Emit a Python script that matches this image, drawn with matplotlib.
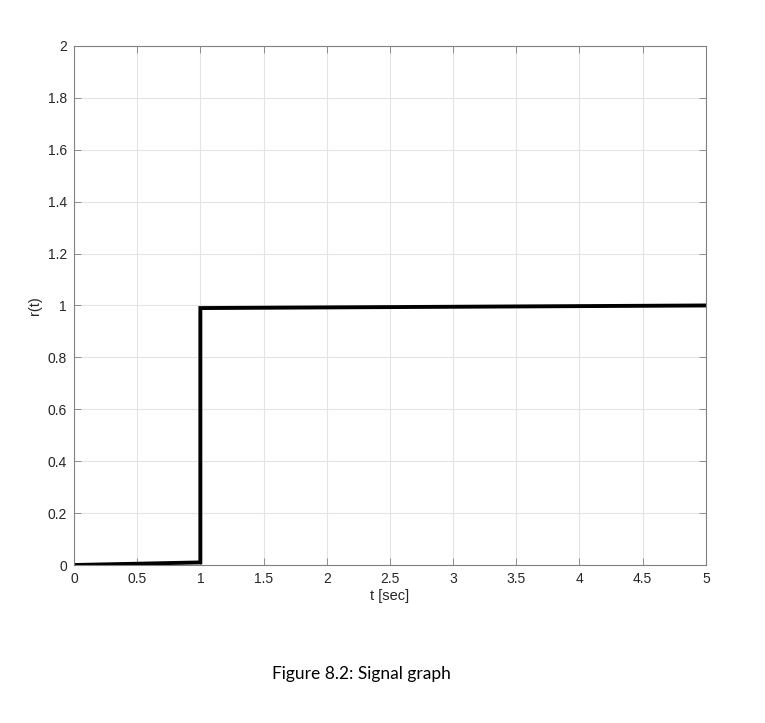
import matplotlib.pyplot as plt

# сигнал r(t), точки
t = [0, 1, 1, 5]
r = [0, 0.01, 0.99, 1.0]

x_ticks = [0, 0.5, 1, 1.5, 2, 2.5, 3, 3.5, 4, 4.5, 5]
x_labels = ['0', '0.5', '1', '1.5', '2', '2.5', '3', '3.5', '4', '4.5', '5']
y_ticks = [0, 0.2, 0.4, 0.6, 0.8, 1, 1.2, 1.4, 1.6, 1.8, 2]
y_labels = ['0', '0.2', '0.4', '0.6', '0.8', '1', '1.2', '1.4', '1.6', '1.8', '2']

plt.rcParams['font.family'] = ['Liberation Sans', 'DejaVu Sans']

fig = plt.figure(figsize=(7.65, 7.23), dpi=100)
ax = fig.add_axes([0.0967, 0.2185, 0.826, 0.718])

ax.plot(t, r, color='black', linewidth=2.8, solid_joinstyle='miter')

ax.set_xlim(0, 5)
ax.set_ylim(0, 2)
ax.set_xticks(x_ticks)
ax.set_xticklabels(x_labels)
ax.set_yticks(y_ticks)
ax.set_yticklabels(y_labels)
ax.grid(True, color='#e3e3e3', linewidth=0.8)
ax.set_axisbelow(True)

for s in ax.spines.values():
    s.set_color('#808080')
    s.set_linewidth(0.8)
ax.tick_params(direction='in', top=True, right=True, length=5, width=0.6,
               color='#808080', labelsize=10, labelcolor='#262626', pad=5)

ax.set_xlabel('t [sec]', fontsize=10.5, color='#262626', labelpad=2)
ax.set_ylabel('r(t)', fontsize=10.5, color='#262626', labelpad=4)

fig.text(0.472, 0.068, 'Figure 8.2: Signal graph', ha='center', va='center',
         fontsize=12.5, family=['Lato', 'DejaVu Sans'], color='black')

fig.savefig('out.png', dpi=100)
